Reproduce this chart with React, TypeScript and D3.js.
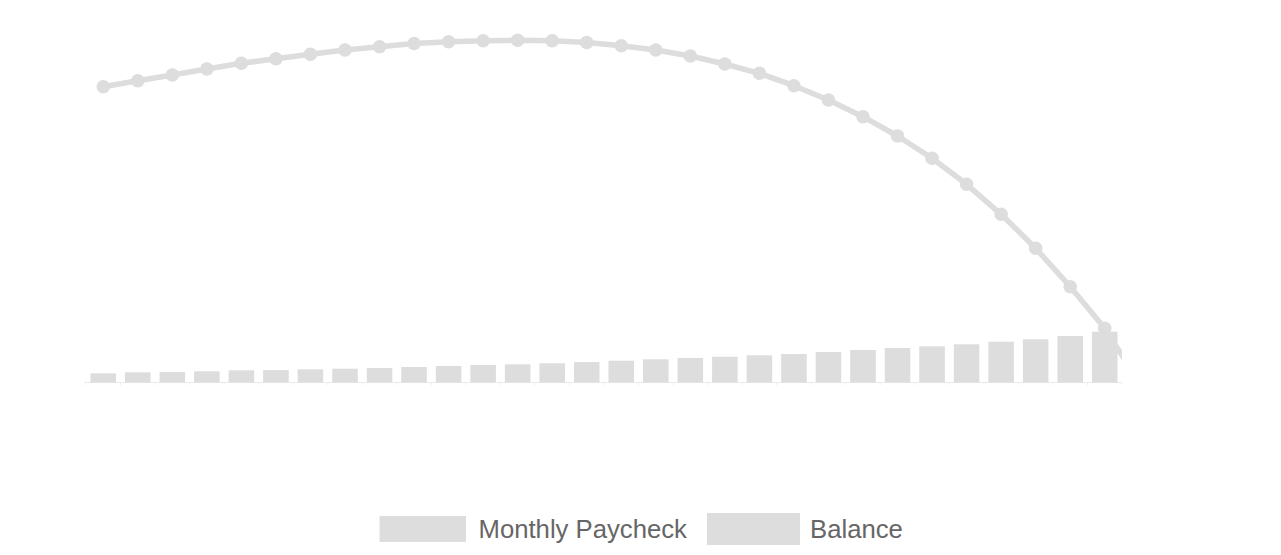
import React from "react";
import * as d3 from "d3";

const months: string[] = Array.from({ length: 31 }, (_, i) => `Month ${i + 1}`);

const paycheck: number[] = [
  9.2, 10.2, 10.5, 11.2, 12.2, 12.5, 13.2, 13.8, 14.5, 15.5,
  16.5, 17.5, 18.2, 19.2, 20.5, 21.8, 23.2, 24.5, 25.8, 27.2,
  28.5, 30.5, 32.5, 34.5, 36.2, 38.2, 40.8, 43.2, 46.5, 50.8,
];

const balance: number[] = [
  295.8, 301.8, 307.5, 313.5, 319.2, 323.8, 328.2, 332.5, 335.8, 339.0,
  340.7, 341.7, 342.2, 341.7, 340.0, 336.8, 332.5, 326.5, 318.5, 309.2,
  296.8, 282.5, 265.8, 246.5, 224.2, 198.2, 168.2, 134.2, 95.8, 54.2, 0,
];

const seriesNames: string[] = ["Monthly Paycheck", "Balance"];

const W = 1281;
const H = 555;
const COLOR = "#dddddd";

export default function App() {
  const step = 34.533;
  const x = d3
    .scaleBand<string>()
    .domain(months)
    .range([86, 86 + step * months.length])
    .paddingInner(0.26)
    .paddingOuter(0.13);
  const y = d3.scaleLinear().domain([0, 350]).range([382.5, 32.5]);
  const clipRight = 1122;

  const line = d3
    .line<number>()
    .x((_, i) => (x(months[i]) as number) + x.bandwidth() / 2)
    .y((d) => y(d))
    .curve(d3.curveLinear);

  const tickXs = d3.range(31).map((i) => 86 + i * step);

  return (
    <svg
      width={W}
      height={H}
      style={{ position: "absolute", left: 0, top: 0, display: "block", background: "#ffffff" }}
      fontFamily="Helvetica, 'Liberation Sans', Arial, sans-serif"
    >
      <defs>
        <clipPath id="plotClip">
          <rect x={0} y={0} width={clipRight} height={H} />
        </clipPath>
      </defs>
      <g clipPath="url(#plotClip)">
        <line x1={84} x2={clipRight} y1={382.5} y2={382.5} stroke="#ebebeb" strokeWidth={1} />
        {tickXs.map((tx, i) => (
          <line key={i} x1={tx} x2={tx} y1={382.5} y2={385} stroke="#eeeeee" strokeWidth={1} />
        ))}
        {paycheck.map((v, i) => (
          <rect
            key={i}
            x={x(months[i]) as number}
            y={y(v)}
            width={x.bandwidth()}
            height={y(0) - y(v)}
            fill={COLOR}
          />
        ))}
        <path d={line(balance) || ""} fill="none" stroke={COLOR} strokeWidth={5.5} strokeLinejoin="round" />
        {balance.map((v, i) => (
          <circle
            key={i}
            cx={(x(months[i]) as number) + x.bandwidth() / 2}
            cy={y(v)}
            r={6.8}
            fill={COLOR}
          />
        ))}
      </g>
      <g>
        <rect x={379.5} y={516} width={86.5} height={26} fill={COLOR} />
        <text x={478.5} y={538.3} fontSize={25.7} fill="#666666">
          {seriesNames[0]}
        </text>
        <rect x={710} y={516} width={87} height={26} fill={COLOR} stroke={COLOR} strokeWidth={6} />
        <text x={810} y={538.3} fontSize={25.7} fill="#666666">
          {seriesNames[1]}
        </text>
      </g>
    </svg>
  );
}
